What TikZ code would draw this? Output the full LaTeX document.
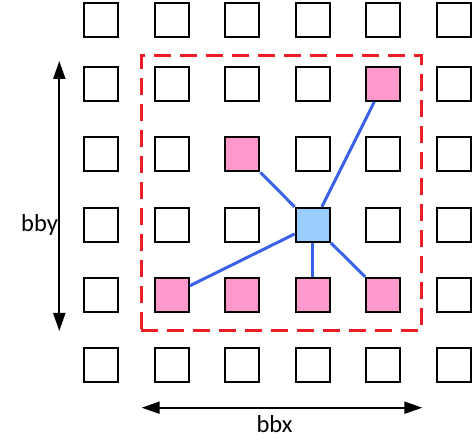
\documentclass[tikz,border=0pt]{standalone}
\usepackage{fontspec}
\setmainfont{Carlito}
\usetikzlibrary{arrows.meta}
\definecolor{pinkfill}{HTML}{FF99CC}
\definecolor{bluefill}{HTML}{99CCFF}
\definecolor{linkblue}{HTML}{3A62E6}
\definecolor{winred}{HTML}{EE1C25}
\begin{document}
\begin{tikzpicture}[x=1pt,y=-1pt,
  cell/.style={draw=black,line width=2.3pt,minimum size=34pt,inner sep=0pt,fill=white},
  sty52/.style={fill=pinkfill},
  sty33/.style={fill=pinkfill},
  sty25/.style={fill=pinkfill},
  sty35/.style={fill=pinkfill},
  sty45/.style={fill=pinkfill},
  sty55/.style={fill=pinkfill},
  sty44/.style={fill=bluefill},
  link/.style={draw=linkblue,line width=3pt},
  window/.style={draw=winred,line width=3pt,dash pattern=on 17pt off 9pt,inner sep=0pt},
  dim/.style={draw=black,line width=2pt,{Triangle[length=18pt,width=12pt]}-{Triangle[length=18pt,width=12pt]}},
  lab/.style={anchor=base,inner sep=0pt,font=\fontsize{24.5}{28}\selectfont}]
\useasboundingbox (0,0) rectangle (474,446);
\foreach \c/\x in {1/101.3,2/171.8,3/242.3,4/312.8,5/383.3,6/453.8}
  \foreach \r/\y in {1/20,2/83.7,3/154.3,4/225,5/294.7,6/364.7}
    \node[cell,sty\c\r/.try] (s\c\r) at (\x,\y) {};
\node[window,minimum width=280.4pt,minimum height=275pt] (win) at (281.5,193.5) {};
\draw[link] (s44) -- (s52);
\draw[link] (s44) -- (s33);
\draw[link] (s44) -- (s25);
\draw[link] (s44) -- (s45);
\draw[link] (s44) -- (s55);
\coordinate (ytop) at (59.3,61);
\coordinate (ybot) at (59.3,331);
\coordinate (xleft) at (141.7,407.7);
\coordinate (xright) at (422.3,407.7);
\draw[dim] (ytop) -- (ybot);
\draw[dim] (xleft) -- (xright);
\node[lab] (bby) at (39.6,231.7) {bby};
\node[lab] (bbx) at (274.5,432.7) {bbx};
\end{tikzpicture}
\end{document}
